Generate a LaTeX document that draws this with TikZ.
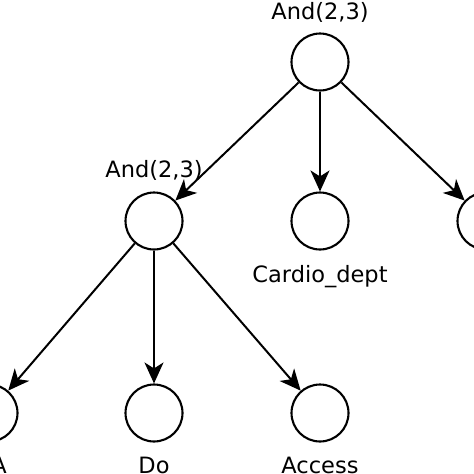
\documentclass[tikz,border=0pt]{standalone}
\usepackage{fontspec}
\setmainfont{DejaVu Sans}
\usetikzlibrary{arrows.meta}
\begin{document}
\begin{tikzpicture}[x=1pt,y=-1pt,
  vnode/.style={circle,draw,line width=2.1pt,minimum size=57pt,inner sep=0pt},
  lbl/.style={font=\fontsize{22.5}{26}\selectfont,inner sep=0pt,anchor=base},
  arr/.style={line width=2pt,-{Stealth[length=21pt,width=19pt,inset=6pt]}}]
\useasboundingbox (0,0) rectangle (474,474);
\node[vnode] (root) at (320,62) {};
\node[vnode] (and2) at (154,221) {};
\node[vnode] (cardio) at (320,221) {};
\node[vnode] (right) at (486,221) {};
\node[vnode] (leftb) at (-11,413) {};
\node[vnode] (do) at (154,413) {};
\node[vnode] (access) at (320,413) {};
\node[lbl] (lroot) at (320,19) {And(2,3)};
\node[lbl] (land2) at (154,177) {And(2,3)};
\node[lbl] (lcardio) at (320,282) {Cardio\_dept};
\node[lbl,anchor=base east] (lleft) at (7,473) {A};
\node[lbl] (ldo) at (154,473) {Do};
\node[lbl] (laccess) at (320,473) {Access};
\draw[arr] (root) -- (and2);
\draw[arr] (root) -- (cardio);
\draw[arr] (root) -- (right);
\draw[arr] (and2) -- (leftb);
\draw[arr] (and2) -- (do);
\draw[arr] (and2) -- (access);
\end{tikzpicture}
\end{document}
